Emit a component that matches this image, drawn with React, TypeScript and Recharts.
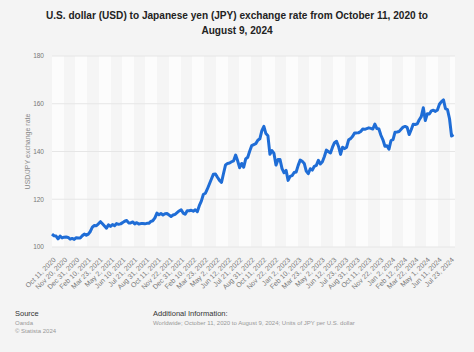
import React from 'react';
import { LineChart, Line, XAxis, YAxis, CartesianGrid, Label } from 'recharts';

// weekly USD/JPY readings, first one on Oct 11, 2020
const startDate = 'Oct 11, 2020';
const lastDay = 1398; // Aug 9, 2024

const weeklyRates = [
  105.4, 104.7, 104.6, 103.4, 104.6, 103.8, 104.1, 104.2, 104.0, 103.3, 103.6, 103.2,
  103.9, 103.8, 103.8, 104.7, 105.4, 104.9, 105.4, 106.5, 108.3, 109.0, 108.9, 109.7,
  110.6, 109.7, 108.8, 107.9, 109.3, 108.6, 109.4, 108.9, 109.8, 109.5, 109.7, 110.2,
  110.8, 111.1, 110.1, 110.1, 110.5, 109.7, 110.2, 109.6, 109.8, 109.8, 109.7, 109.9,
  109.9, 110.7, 111.0, 112.2, 114.2, 113.5, 114.0, 113.4, 113.9, 114.0, 113.4, 112.8,
  113.4, 113.7, 114.4, 115.1, 115.6, 114.2, 113.7, 115.2, 115.2, 115.4, 115.0, 115.6,
  114.8, 117.3, 119.2, 122.0, 122.5, 124.3, 126.4, 128.5, 130.5, 130.6, 129.2, 127.9,
  127.1, 130.8, 134.4, 135.0, 135.2, 135.7, 136.1, 138.5, 136.1, 133.2, 135.0, 133.4,
  136.9, 137.6, 140.2, 142.5, 142.9, 143.3, 144.7, 145.3, 148.7, 150.5, 147.5, 146.6,
  138.8, 140.4, 139.2, 134.3, 136.6, 136.6, 132.8, 131.1, 132.1, 127.9, 129.6, 129.9,
  131.2, 131.4, 134.2, 136.4, 135.9, 135.0, 131.8, 130.7, 132.8, 132.2, 133.8, 134.2,
  136.3, 134.8, 135.7, 137.9, 140.6, 139.9, 139.4, 141.8, 143.7, 144.3, 142.1, 138.8,
  141.8, 141.2, 141.8, 144.9, 145.4, 146.4, 147.8, 147.8, 147.9, 148.4, 149.4, 149.3,
  149.6, 149.9, 149.7, 149.4, 151.5, 149.6, 149.4, 146.8, 144.9, 142.2, 142.4, 141.0,
  144.6, 145.0, 148.1, 148.2, 148.4, 149.3, 150.2, 150.5, 150.1, 147.1, 149.1, 151.4,
  151.3, 151.6, 153.3, 154.6, 158.3, 153.0, 155.8, 155.7, 157.0, 157.3, 156.8, 157.4,
  159.8, 160.9, 161.6, 157.9, 157.5, 153.7, 146.5, 147.0,
];

const tickLabels = [
  'Oct 11, 2020', 'Nov 20, 2020', 'Dec 31, 2020', 'Feb 10, 2021', 'Mar 23, 2021',
  'May 2, 2021', 'Jun 10, 2021', 'Jul 21, 2021', 'Aug 31, 2021', 'Oct 11, 2021',
  'Nov 22, 2021', 'Dec 31, 2021', 'Feb 10, 2022', 'Mar 23, 2022', 'May 2, 2022',
  'Jun 12, 2022', 'Jul 21, 2022', 'Aug 31, 2022', 'Oct 11, 2022', 'Nov 22, 2022',
  'Jan 2, 2023', 'Feb 10, 2023', 'Mar 23, 2023', 'May 2, 2023', 'Jun 12, 2023',
  'Jul 23, 2023', 'Aug 31, 2023', 'Oct 11, 2023', 'Nov 22, 2023', 'Jan 2, 2024',
  'Feb 12, 2024', 'Mar 22, 2024', 'May 1, 2024', 'Jun 11, 2024', 'Jul 23, 2024',
];

const yTicks = [100, 120, 140, 160, 180];

const dayOf = (label: string) =>
  Math.round((new Date(label).getTime() - new Date(startDate).getTime()) / 86400000);

const tickDays = tickLabels.map(dayOf);
const labelByDay: Record<number, string> = {};
tickLabels.forEach((l, i) => { labelByDay[tickDays[i]] = l; });

const data = weeklyRates.map((rate, i) => ({ day: Math.min(i * 7, lastDay), rate }));

const font = '"Liberation Sans", Arial, Helvetica, sans-serif';

const XTick = ({ x, y, payload }: any) => (
  <text
    x={x + 3}
    y={y + 4}
    transform={`rotate(-45 ${x + 3} ${y + 4})`}
    textAnchor="end"
    dominantBaseline="middle"
    fontSize={7}
    fill="#777"
    fontFamily={font}
  >
    {labelByDay[payload.value]}
  </text>
);

export default function App() {
  return (
    <div
      style={{
        position: 'absolute',
        left: 0,
        top: 0,
        width: 474,
        height: 352,
        background: '#f4f4f4',
        fontFamily: font,
        overflow: 'hidden',
      }}
    >
      <div
        style={{
          position: 'absolute',
          top: 8,
          left: 0,
          width: 474,
          textAlign: 'center',
          fontWeight: 'bold',
          fontSize: 10.1,
          lineHeight: '15px',
          color: '#222',
        }}
      >
        U.S. dollar (USD) to Japanese yen (JPY) exchange rate from October 11, 2020 to
        <br />
        August 9, 2024
      </div>

      <div style={{ position: 'absolute', left: 0, top: 0 }}>
        <LineChart
          width={474}
          height={300}
          data={data}
          margin={{ top: 56, right: 19, left: 8, bottom: 0 }}
          style={{ fontFamily: font }}
        >
          <CartesianGrid
            vertical
            horizontal={false}
            stroke="transparent"
            verticalFill={['#fcfcfc', '#f5f5f5']}
          />
          <CartesianGrid vertical={false} stroke="#e6e6e6" strokeWidth={1} />
          <XAxis
            dataKey="day"
            type="number"
            domain={[0, lastDay]}
            ticks={tickDays}
            interval={0}
            tick={<XTick />}
            tickLine={false}
            axisLine={false}
            height={53}
          />
          <YAxis
            domain={[100, 180]}
            ticks={yTicks}
            tickLine={false}
            axisLine={false}
            width={44}
            tick={{ fontSize: 6.5, fill: '#777', fontFamily: font }}
          >
            <Label
              value="USD/JPY exchange rate"
              angle={-90}
              position="insideLeft"
              offset={20}
              style={{ textAnchor: 'middle', fontSize: 7, fill: '#888', fontFamily: font }}
            />
          </YAxis>
          <Line
            type="linear"
            dataKey="rate"
            stroke="#1f6dd6"
            strokeWidth={3}
            dot={false}
            strokeLinejoin="round"
            isAnimationActive={false}
          />
        </LineChart>
      </div>

      <div style={{ position: 'absolute', left: 15, top: 310, fontSize: 7.5, lineHeight: '8.5px' }}>
        <div style={{ color: '#333' }}>Source</div>
        <div style={{ color: '#999', fontSize: 6 }}>Oanda</div>
        <div style={{ color: '#999', fontSize: 6 }}>© Statista 2024</div>
      </div>
      <div style={{ position: 'absolute', left: 153, top: 310, fontSize: 7.5, lineHeight: '8.5px' }}>
        <div style={{ color: '#333' }}>Additional Information:</div>
        <div style={{ color: '#999', fontSize: 6 }}>
          Worldwide; October 11, 2020 to August 9, 2024; Units of JPY per U.S. dollar
        </div>
      </div>
    </div>
  );
}
